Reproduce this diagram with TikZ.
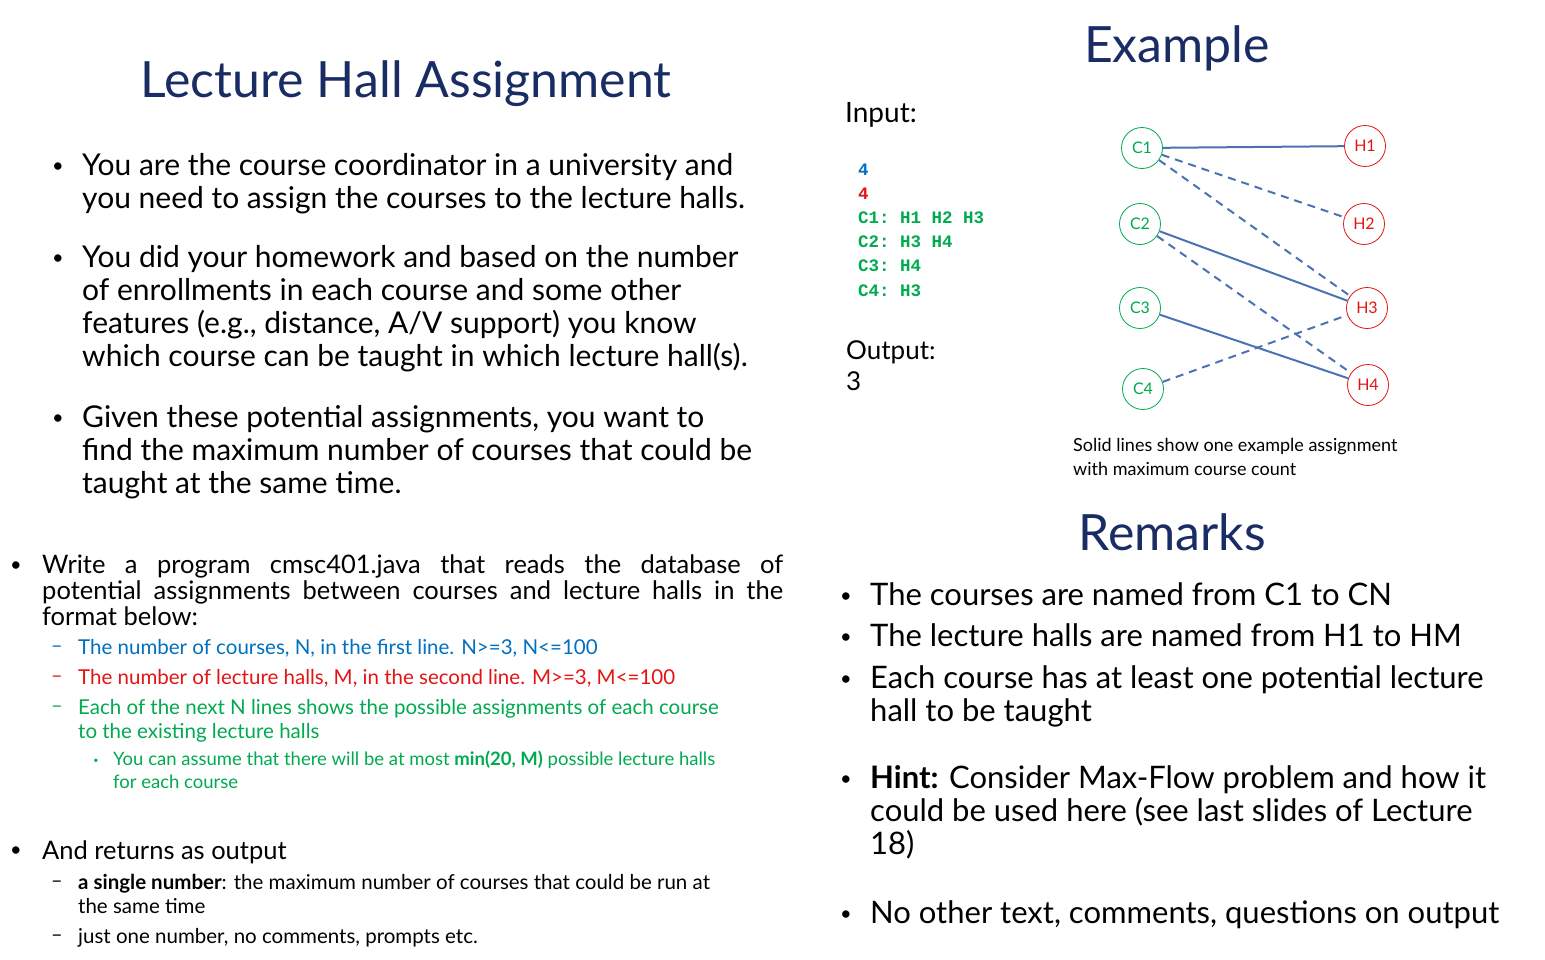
\documentclass[tikz,border=0pt]{standalone}
\usepackage{fontspec}
\setmainfont{Lato}
\setmonofont{Liberation Mono}
\usetikzlibrary{positioning}
\definecolor{navy}{RGB}{25,45,100}
\definecolor{cblue}{RGB}{0,112,192}
\definecolor{cred}{RGB}{228,20,20}
\definecolor{cgreen}{RGB}{0,170,80}
\definecolor{edge}{RGB}{75,115,180}
\begin{document}
\begin{tikzpicture}[x=1pt,y=-1pt,
  txt/.style={anchor=north west,align=left,inner sep=0pt},
  cnode/.style={circle,draw=cgreen,text=cgreen,thick,minimum size=41pt,inner sep=0pt,font=\fontsize{16}{16}\selectfont},
  hnode/.style={circle,draw=cred,text=cred,thick,minimum size=41pt,inner sep=0pt,font=\fontsize{16}{16}\selectfont},
  sol/.style={draw=edge,line width=2pt},
  dsh/.style={draw=edge,line width=2pt,dash pattern=on 8pt off 6pt},
  bul/.style={font=\fontsize{20}{20}\selectfont},
  dashmark/.style={font=\fontsize{20}{20}\selectfont}]
\useasboundingbox (0,0) rectangle (1545,959);
\fill[white] (0,0) rectangle (1545,959);
% titles
\node[text=navy,font=\fontsize{50}{50}\selectfont] (t1) at (406,84) {Lecture Hall Assignment};
\node[text=navy,font=\fontsize{50}{50}\selectfont] (t2) at (1177,48) {Example};
\node[text=navy,font=\fontsize{50}{50}\selectfont] (t3) at (1172,532) {Remarks};
% top-left bullets
\begin{scope}[every node/.style={txt,font=\fontsize{30}{33}\selectfont}]
\node (b1) at (82,153) {You are the course coordinator in a university and\\you need to assign the courses to the lecture halls.};
\node (b2) at (82,245) {You did your homework and based on the number\\of enrollments in each course and some other\\features (e.g., distance, A/V support) you know\\which course can be taught in which lecture hall(s).};
\node (b3) at (82,405) {Given these potential assignments, you want to\\find the maximum number of courses that could be\\taught at the same time.};
\end{scope}
\foreach \y in {168,260,420} \node[bul] at (58,\y) {•};
% lower-left
\node[txt,text width=741pt,align=justify,font=\fontsize{25.5}{26}\selectfont] (w) at (42,555) {Write a program cmsc401.java that reads the database of\linebreak potential assignments between courses and lecture halls in the\linebreak format below:};
\node[bul] at (16,567) {•};
\begin{scope}[every node/.style={txt,font=\fontsize{20.5}{24}\selectfont}]
\node[text=cblue] (l1) at (78,639) {The number of courses, N, in the first line. N>=3, N<=100};
\node[text=cred] (l2) at (78,669) {The number of lecture halls, M, in the second line. M>=3, M<=100};
\node[text=cgreen] (l3) at (78,699) {Each of the next N lines shows the possible assignments of each course\\to the existing lecture halls};
\node[text=cgreen,font=\fontsize{18.5}{23}\selectfont] (l4) at (113,751) {You can assume that there will be at most \textbf{min(20, M)} possible lecture halls\\for each course};
\node[font=\fontsize{25.5}{26}\selectfont] (ar) at (42,841) {And returns as output};
\node (o1) at (78,874) {\textbf{a single number}: the maximum number of courses that could be run at\\the same time};
\node (o2) at (78,928) {just one number, no comments, prompts etc.};
\end{scope}
\node[dashmark,text=cblue] at (57,649) {–};
\node[dashmark,text=cred] at (57,679) {–};
\node[dashmark,text=cgreen] at (57,709) {–};
\node[text=cgreen,font=\small] at (96,761) {•};
\node[bul] at (16,852) {•};
\node[dashmark] at (57,884) {–};
\node[dashmark] at (57,938) {–};
% example
\node[txt,font=\fontsize{28}{28}\selectfont] (in) at (845,102) {Input:};
\begin{scope}[every node/.style={txt,font=\ttfamily\bfseries\fontsize{17.5}{17.5}\selectfont}]
\node[text=cblue] (i1) at (858,164) {4};
\node[text=cred] (i2) at (858,188) {4};
\node[text=cgreen] (i3) at (858,212) {C1: H1 H2 H3};
\node[text=cgreen] (i4) at (858,236) {C2: H3 H4};
\node[text=cgreen] (i5) at (858,260) {C3: H4};
\node[text=cgreen] (i6) at (858,285) {C4: H3};
\end{scope}
\node[txt,font=\fontsize{26}{31}\selectfont] (out) at (846,340) {Output:\\3};
% graph
\node[cnode] (C1) at (1142,148) {C1};
\node[cnode] (C2) at (1140,224) {C2};
\node[cnode] (C3) at (1140,308) {C3};
\node[cnode] (C4) at (1143,389) {C4};
\node[hnode] (H1) at (1365,146) {H1};
\node[hnode] (H2) at (1364,224) {H2};
\node[hnode] (H3) at (1367,308) {H3};
\node[hnode] (H4) at (1368,385) {H4};
\draw[sol] (C1) -- (H1);
\draw[dsh] (C1) -- (H2);
\draw[dsh] (C1) -- (H3);
\draw[sol] (C2) -- (H3);
\draw[dsh] (C2) -- (H4);
\draw[sol] (C3) -- (H4);
\draw[dsh] (C4) -- (H3);
\node[txt,font=\fontsize{18}{24}\selectfont] (cap) at (1073,438) {Solid lines show one example assignment\\with maximum course count};
% remarks
\begin{scope}[every node/.style={txt,font=\fontsize{31}{33}\selectfont}]
\node (r1) at (870,582) {The courses are named from C1 to CN};
\node (r2) at (870,623) {The lecture halls are named from H1 to HM};
\node (r3) at (870,665) {Each course has at least one potential lecture\\hall to be taught};
\node (r4) at (870,765) {\textbf{Hint:} Consider Max-Flow problem and how it\\could be used here (see last slides of Lecture\\18)};
\node (r5) at (870,900) {No other text, comments, questions on output};
\end{scope}
\foreach \y in {598,639,681,781,916} \node[bul] at (846,\y) {•};
\end{tikzpicture}
\end{document}
